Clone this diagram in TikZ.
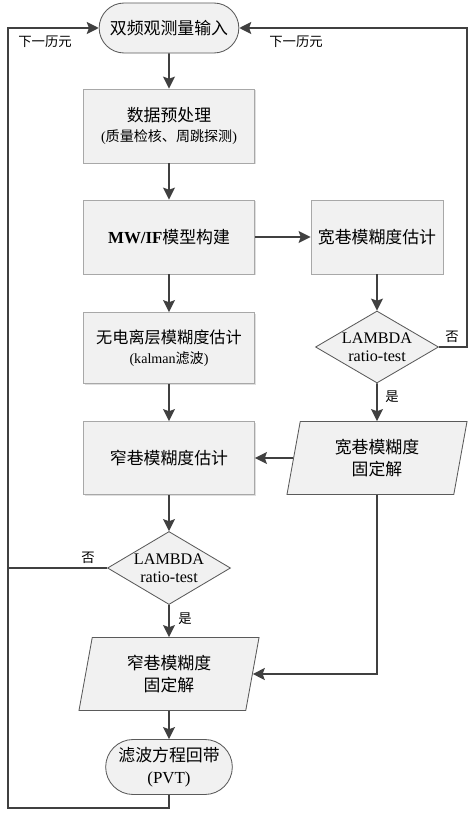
\documentclass[tikz,border=0pt]{standalone}
\usepackage{fontspec}
\setmainfont{Liberation Serif}
\newfontfamily\cjk{Noto Sans CJK SC}
\newfontfamily\lat{Liberation Serif}
\usetikzlibrary{shapes.geometric,shapes.misc,arrows.meta,shadows}
\definecolor{linegray}{HTML}{404040}
\definecolor{boxfill}{HTML}{F1F1F1}
\definecolor{boxedge}{HTML}{A8A8A8}
\definecolor{shapeedge}{HTML}{5A5A5A}
\tikzset{
	procbox/.style={draw=boxedge, fill=boxfill, line width=0.6pt, minimum width=4.275cm, minimum height=1.85cm, align=center, font=\cjk\fontsize{12}{16}\selectfont, drop shadow={shadow xshift=1pt, shadow yshift=-1pt, opacity=0.25}},
	termbox/.style={rounded rectangle, draw=shapeedge, fill=boxfill, line width=0.6pt, align=center, font=\cjk\fontsize{12}{16}\selectfont},
	testbox/.style={diamond, draw=shapeedge, fill=boxfill, line width=0.6pt, aspect=1.75, inner sep=-2pt, minimum width=3.075cm, minimum height=1.8cm, align=center, font=\lat\fontsize{11.5}{13}\selectfont},
	fixbox/.style={trapezium, trapezium left angle=74, trapezium right angle=106, trapezium stretches body, draw=shapeedge, fill=boxfill, line width=0.6pt, minimum width=4.5cm, minimum height=1.825cm, align=center, font=\cjk\fontsize{12}{15}\selectfont},
	flow/.style={draw=linegray, line width=1.2pt, -{Stealth[length=8.5pt,width=8.5pt,inset=1.5pt]}},
	loopline/.style={draw=linegray, line width=1.2pt},
	sidelabel/.style={font=\cjk\fontsize{9.5}{9.5}\selectfont, inner sep=1pt}
}

\begin{document}
\begin{tikzpicture}[x=0.025cm, y=-0.025cm]
			%%%%% START %%%%%
			\useasboundingbox (0, 0) rectangle (474, 814);
			
			\node[termbox, minimum width=3.725cm, minimum height=1.25cm] (start) at (169, 28) {双频观测量输入};
			\node[procbox] (prep) at (169, 126) {数据预处理\\[-2pt]{\fontsize{10}{12}\selectfont{\lat(}质量检核、周跳探测{\lat)}}};
			\node[procbox] (model) at (169, 237) {{\lat\bfseries MW/IF}模型构建};
			\node[procbox, minimum width=3.3cm] (wide) at (377, 237) {宽巷模糊度估计};
			\node[procbox, minimum height=1.775cm] (iono) at (169, 348) {{\fontsize{11.5}{14}\selectfont 无电离层模糊度估计}\\[-2pt]{\fontsize{10}{12}\selectfont{\lat(kalman}滤波{\lat)}}};
			\node[testbox] (wtest) at (377, 347) {LAMBDA\\ratio-test};
			\node[procbox, minimum height=1.825cm] (narrow) at (169, 458) {窄巷模糊度估计};
			\node[fixbox] (wfix) at (377, 458) {宽巷模糊度\\固定解};
			\node[testbox, minimum height=1.825cm] (ntest) at (169, 568) {LAMBDA\\ratio-test};
			\node[fixbox] (nfix) at (169, 674) {窄巷模糊度\\固定解};
			\node[termbox, minimum width=3.4cm, minimum height=1.375cm] (pvt) at (169, 767) {滤波方程回带\\{\lat(PVT)}};
			
			\coordinate (cornerBL) at (8, 808);
			\coordinate (cornerTL) at (8, 28);
			\coordinate (cornerTR) at (467, 28);
			
			\draw[flow] (start) -- (prep);
			\draw[flow] (prep) -- (model);
			\draw[flow] (model) -- (iono);
			\draw[flow] (model) -- (wide);
			\draw[flow] (wide) -- (wtest);
			\draw[flow] (iono) -- (narrow);
			\draw[flow] (wtest) -- (wfix);
			\draw[flow] (wfix.west) -- (narrow.east);
			\draw[flow] (narrow) -- (ntest);
			\draw[flow] (ntest) -- (nfix);
			\draw[flow] (nfix) -- (pvt);
			\draw[flow] (wfix.south) |- (nfix.east);
			
			\draw[flow] (pvt.south) |- (cornerBL) -- (cornerTL) -- (start.west);
			\draw[loopline] (ntest.west) -- (ntest.west -| cornerTL);
			\draw[flow] (wtest.east) -| (cornerTR) -- (start.east);
			
			\node[sidelabel] (nextL) at (45, 42) {下一历元};
			\node[sidelabel] (nextR) at (296, 42) {下一历元};
			\node[sidelabel] (noR) at (452, 337) {否};
			\node[sidelabel] (yesR) at (392, 397) {是};
			\node[sidelabel] (noL) at (88, 558) {否};
			\node[sidelabel] (yesL) at (185, 619) {是};
			%%%%% END %%%%%
\end{tikzpicture}
\end{document}
